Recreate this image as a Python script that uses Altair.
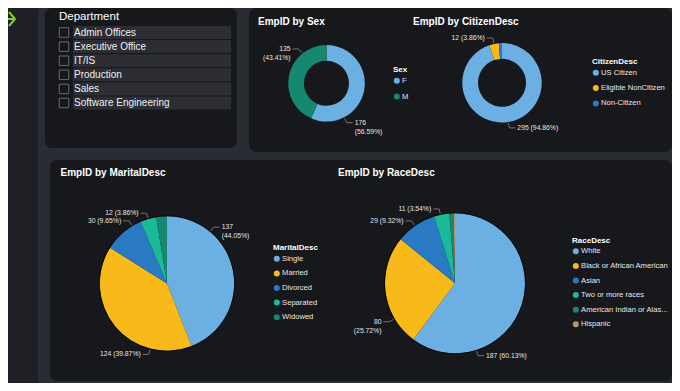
import math
import altair as alt
import pandas as pd

# ---------------- data ----------------
DEPARTMENTS = ["Admin Offices", "Executive Office", "IT/IS", "Production",
               "Sales", "Software Engineering"]

SEX_CATS = ["F", "M"]
SEX_VALUES = [176, 135]

CIT_CATS = ["US Citizen", "Eligible NonCitizen", "Non-Citizen"]
CIT_VALUES = [295, 12, 4]

MAR_CATS = ["Single", "Married", "Divorced", "Separated", "Widowed"]
MAR_VALUES = [137, 124, 30, 12, 8]

RACE_CATS = ["White", "Black or African American", "Asian", "Two or more races",
             "American Indian or Alaska Native", "Hispanic"]
RACE_VALUES = [187, 80, 29, 11, 3, 1]

# ---------------- style ----------------
F = "Liberation Sans"
BG = "#1e2025"
OUTER = "#2a2c33"
PANEL = "#17181c"
ROW = "#2c2e34"
LB, YL, MB, TB, DT, TAN = "#6cafe2", "#f8b91b", "#2a79c3", "#1ab99a", "#16886f", "#b8946a"

O = 8  # page margin offset (layout is measured in page pixels)
XS = alt.Scale(domain=[O, 672], nice=False, zero=False)
YS = alt.Scale(domain=[383, O], nice=False, zero=False)
ONE = pd.DataFrame({"a": [0]})


def rect(x0, y0, x1, y1, color, radius=0):
    return alt.Chart(ONE).mark_rect(color=color, cornerRadius=radius).encode(
        x=alt.value(x0 - O), x2=alt.value(x1 - O), y=alt.value(y0 - O), y2=alt.value(y1 - O))


def title(txt, x, y, size=10, weight="bold"):
    return alt.Chart(ONE).mark_text(text=txt, align="left", baseline="middle", font=F,
                                    fontSize=size, fontWeight=weight, color="#ffffff").encode(
        x=alt.value(x - O), y=alt.value(y - O))


def pie(cats, vals, colors, cx, cy, r, ir, ltitle, lx, ly, rowpad, outline=False):
    df = pd.DataFrame({"cat": cats, "val": vals, "idx": list(range(len(cats)))})
    layers = [alt.Chart(df).mark_arc(radius=r, innerRadius=ir).encode(
        theta=alt.Theta("val:Q", stack=True),
        color=alt.Color("cat:N", scale=alt.Scale(domain=cats, range=colors),
                        legend=alt.Legend(title=ltitle, orient="none", legendX=lx - O, legendY=ly - O,
                                          rowPadding=rowpad,
                                          labelExpr="truncate(datum.label, 26, 'right', '...')")),
        order=alt.Order("idx:Q"),
        x=alt.value(cx - O), y=alt.value(cy - O))]
    if outline:
        layers.append(alt.Chart(ONE).mark_point(shape="circle", filled=False, size=(2 * r + 1) ** 2,
                                                color="#050505", strokeWidth=1).encode(
            x=alt.value(cx - O), y=alt.value(cy - O)))
    return layers


label_rows, line_rows = [], []


def add_labels(cats, vals, cx, cy, r, place):
    total = sum(vals)
    cum = 0
    for c, v in zip(cats, vals):
        start, end = cum / total * 360, (cum + v) / total * 360
        cum += v
        if c not in place:
            continue
        frac, wrap = place[c]
        a = math.radians(start + frac * (end - start))
        s, co = math.sin(a), math.cos(a)
        p0 = (cx + (r + 1) * s, cy - (r + 1) * co)
        p1 = (cx + (r + 6) * s, cy - (r + 6) * co)
        side = "R" if s > 0 else "L"
        d = 1 if side == "R" else -1
        p2 = (p1[0] + 6 * d, p1[1])
        pct = f"({v / total * 100:.2f}%)"
        txt = f"{v}\n{pct}" if wrap else f"{v} {pct}"
        key = f"{c}-{cx}"
        label_rows.append({"tx": p2[0] + 2 * d, "ty": p2[1], "text": txt, "side": side})
        for i, p in enumerate([p0, p1, p2]):
            line_rows.append({"k": key, "i": i, "x": p[0], "y": p[1]})


# geometry (page pixels)
SEX_C, SEX_R, SEX_IR = (326.5, 83.3), 38.3, 22.5
CIT_C, CIT_R, CIT_IR = (502.0, 82.8), 39.7, 24.0
MAR_C, MAR_R = (167.0, 283.5), 67.2
RACE_C, RACE_R = (455.0, 283.3), 70.0

add_labels(SEX_CATS, SEX_VALUES, *SEX_C, SEX_R, {"F": (0.75, True), "M": (0.75, True)})
add_labels(CIT_CATS, CIT_VALUES, *CIT_C, CIT_R, {"US Citizen": (0.5, False), "Eligible NonCitizen": (0.5, False)})
add_labels(MAR_CATS, MAR_VALUES, *MAR_C, MAR_R,
           {"Single": (0.25, True), "Married": (0.25, False), "Divorced": (0.77, False), "Separated": (0.5, False)})
add_labels(RACE_CATS, RACE_VALUES, *RACE_C, RACE_R,
           {"White": (0.75, False), "Black or African American": (0.25, True), "Asian": (0.48, False),
            "Two or more races": (0.42, False)})

labels = pd.DataFrame(label_rows)
lines = pd.DataFrame(line_rows)

label_layers = []
for side, align in [("R", "left"), ("L", "right")]:
    label_layers.append(alt.Chart(labels[labels.side == side]).mark_text(
        align=align, baseline="middle", font=F, fontSize=6.8, color="#e4e4e4", lineBreak="\n", lineHeight=9).encode(
        x=alt.X("tx:Q", scale=XS, axis=None), y=alt.Y("ty:Q", scale=YS, axis=None), text="text:N"))

leaders = alt.Chart(lines).mark_line(color="#8a8a8a", strokeWidth=0.8).encode(
    x=alt.X("x:Q", scale=XS, axis=None), y=alt.Y("y:Q", scale=YS, axis=None),
    detail="k:N", order="i:Q")

# arrow icon
arrow = pd.DataFrame({"k": ["s", "s", "h", "h", "h"], "i": [0, 1, 0, 1, 2],
                      "x": [0, 15, 9, 15, 9], "y": [19, 19, 12, 19, 26]})
arrow_layer = alt.Chart(arrow).mark_line(color="#7ed321", strokeWidth=2).encode(
    x=alt.X("x:Q", scale=XS, axis=None), y=alt.Y("y:Q", scale=YS, axis=None), detail="k:N", order="i:Q")

# slicer
sl = pd.DataFrame({"dept": DEPARTMENTS, "i": list(range(len(DEPARTMENTS)))})
sl["y0"] = 26 + sl["i"] * 14.1
sl["y1"] = sl["y0"] + 13
sl["cy"] = sl["y0"] + 6.5
slicer_rows = alt.Chart(sl).mark_rect(color=ROW).encode(
    x=alt.value(73 - O), x2=alt.value(231 - O),
    y=alt.Y("y0:Q", scale=YS, axis=None), y2="y1:Q")
slicer_boxes = alt.Chart(sl).mark_square(size=90, filled=False, color="#8e8e8e", strokeWidth=1).encode(
    x=alt.value(64 - O), y=alt.Y("cy:Q", scale=YS, axis=None))
slicer_text = alt.Chart(sl).mark_text(align="left", baseline="middle", font=F, fontSize=10,
                                      color="#eeeeee").encode(
    x=alt.value(74 - O), y=alt.Y("cy:Q", scale=YS, axis=None), text="dept:N")

layers = [
    rect(38, 2, 720, 420, OUTER, 12),
    rect(45, 8, 237, 148, PANEL, 7),
    rect(249, 8, 672, 152, PANEL, 7),
    rect(50, 160, 672, 381, PANEL, 7),
    arrow_layer,
    title("Department", 59, 17, 11.5, "normal"),
    slicer_rows, slicer_boxes, slicer_text,
    title("EmpID by Sex", 258, 22),
    title("EmpID by CitizenDesc", 413, 22),
    title("EmpID by MaritalDesc", 60.5, 172.5),
    title("EmpID by RaceDesc", 338, 172.5),
    *pie(SEX_CATS, SEX_VALUES, [LB, DT], *SEX_C, SEX_R, SEX_IR, "Sex", 393, 66, 6.8),
    *pie(CIT_CATS, CIT_VALUES, [LB, YL, MB], *CIT_C, CIT_R, CIT_IR, "CitizenDesc", 592, 58, 6.3),
    *pie(MAR_CATS, MAR_VALUES, [LB, YL, MB, TB, DT], *MAR_C, MAR_R, 0, "MaritalDesc", 273, 244, 5.6, True),
    *pie(RACE_CATS, RACE_VALUES, [LB, YL, MB, TB, DT, TAN], *RACE_C, RACE_R, 0, "RaceDesc", 572, 236.5, 5.6, True),
    leaders,
    *label_layers,
]

chart = alt.layer(*layers).properties(
    width=664, height=375, background=BG, padding=0,
    autosize=alt.AutoSizeParams(type="none"),
).resolve_scale(color="independent", theta="independent").configure_view(stroke=None).configure_legend(
    titleFont=F, labelFont=F, titleFontSize=8, labelFontSize=7.6, titleColor="#ffffff", labelColor="#e8e8e8",
    symbolType="circle", symbolSize=36, symbolStrokeWidth=0, titlePadding=3,
    padding=0, labelOffset=1.5, titleFontWeight="bold")

chart.save("out.html", embed_options={"renderer": "svg", "actions": False})
